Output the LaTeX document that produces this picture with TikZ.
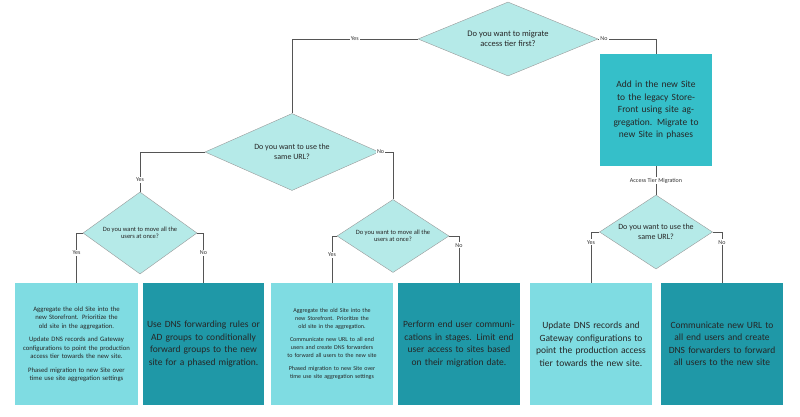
\documentclass[tikz,border=0pt]{standalone}
\usepackage{fontspec}
\setmainfont{Carlito}
\usetikzlibrary{shapes.geometric}
\definecolor{dia}{HTML}{B5EAE8}
\definecolor{lt}{HTML}{7FDCE2}
\definecolor{md}{HTML}{35BFC9}
\definecolor{dk}{HTML}{1F98A7}
\definecolor{ln}{HTML}{555555}
\tikzset{
 q/.style={diamond,draw=ln!60,line width=0.4pt,fill=dia,minimum width=#1,aspect=2.3,inner sep=0pt,align=center,text=black!85},
 bx/.style={minimum width=122pt,minimum height=122pt,inner sep=3pt,align=center,text width=114pt,text=black!85},
 conn/.style={draw=ln,line width=0.8pt},
 lab/.style={fill=white,inner sep=1pt,font=\fontsize{6}{7}\selectfont,text=black!80}
}
\begin{document}
\begin{tikzpicture}[x=1pt,y=-1pt]
\useasboundingbox (0,0) rectangle (800,417);
% diamonds
\node[q=180pt,minimum height=74pt,font=\fontsize{8.5}{10}\selectfont] (d1) at (508,39) {Do you want to migrate\\access tier first?};
\node[q=174pt,minimum height=77pt,font=\fontsize{8}{9.5}\selectfont] (d2) at (292,152) {Do you want to use the\\same URL?};
\node[q=114pt,minimum height=82pt,font=\fontsize{6.5}{7.5}\selectfont] (d4) at (140,233) {Do you want to move all the\\users at once?};
\node[q=112pt,minimum height=73pt,font=\fontsize{6.5}{7.5}\selectfont] (d5) at (393,236) {Do you want to move all the\\users at once?};
\node[q=113pt,minimum height=74pt,font=\fontsize{8}{9.5}\selectfont] (d3) at (656,232) {Do you want to use the\\same URL?};
% boxes
\node[bx,fill=md,minimum width=112pt,minimum height=112pt,text width=104pt,font=\fontsize{9.5}{12.5}\selectfont] (a) at (656,110) {Add in the new Site to the legacy StoreFront using site aggregation. Migrate to new Site in phases};
\node[bx,fill=lt,minimum width=123pt,font=\fontsize{6.7}{8.5}\selectfont] (b1) at (76.5,344) {Aggregate the old Site into the new Storefront. Prioritize the old site in the aggregation.\\[5pt]Update DNS records and Gateway configurations to point the production access tier towards the new site.\\[5pt]Phased migration to new Site over time use site aggregation settings};
\node[bx,fill=dk,minimum width=121pt,font=\fontsize{9.5}{12.5}\selectfont] (b2) at (203.5,344) {Use DNS forwarding rules or AD groups to conditionally forward groups to the new site for a phased migration.};
\node[bx,fill=lt,font=\fontsize{6}{8}\selectfont] (c1) at (332,344) {Aggregate the old Site into the new Storefront. Prioritize the old site in the aggregation.\\[5pt]Communicate new URL to all end users and create DNS forwarders to forward all users to the new site\\[5pt]Phased migration to new Site over time use site aggregation settings};
\node[bx,fill=dk,font=\fontsize{9.5}{12.5}\selectfont] (c2) at (459,344) {Perform end user communications in stages. Limit end user access to sites based on their migration date.};
\node[bx,fill=lt,font=\fontsize{9.5}{12.5}\selectfont] (e1) at (591,344) {Update DNS records and Gateway configurations to point the production access tier towards the new site.};
\node[bx,fill=dk,font=\fontsize{9.5}{12.5}\selectfont] (e2) at (722,344) {Communicate new URL to all end users and create DNS forwarders to forward all users to the new site};
% connectors
\draw[conn] (d1.west) -| (d2.north) node[lab,pos=0.25] {Yes};
\draw[conn] (d1.east) -| (a.north) node[lab,pos=0.05] {No};
\draw[conn] (a.south) -- (d3.north) node[lab,midway] {Access Tier Migration};
\draw[conn] (d2.west) -| (d4.north) node[lab,pos=0.85] {Yes};
\draw[conn] (d2.east) -| (d5.north) node[lab,pos=0.05] {No};
\draw[conn] (d4.west) -| (b1.north) node[lab,pos=0.7] {Yes};
\draw[conn] (d4.east) -| (b2.north) node[lab,pos=0.7] {No};
\draw[conn] (d5.west) -| (c1.north) node[lab,pos=0.7] {Yes};
\draw[conn] (d5.east) -| (c2.north) node[lab,pos=0.6] {No};
\draw[conn] (d3.west) -| (e1.north) node[lab,pos=0.6] {Yes};
\draw[conn] (d3.east) -| (e2.north) node[lab,pos=0.6] {No};
\end{tikzpicture}
\end{document}
